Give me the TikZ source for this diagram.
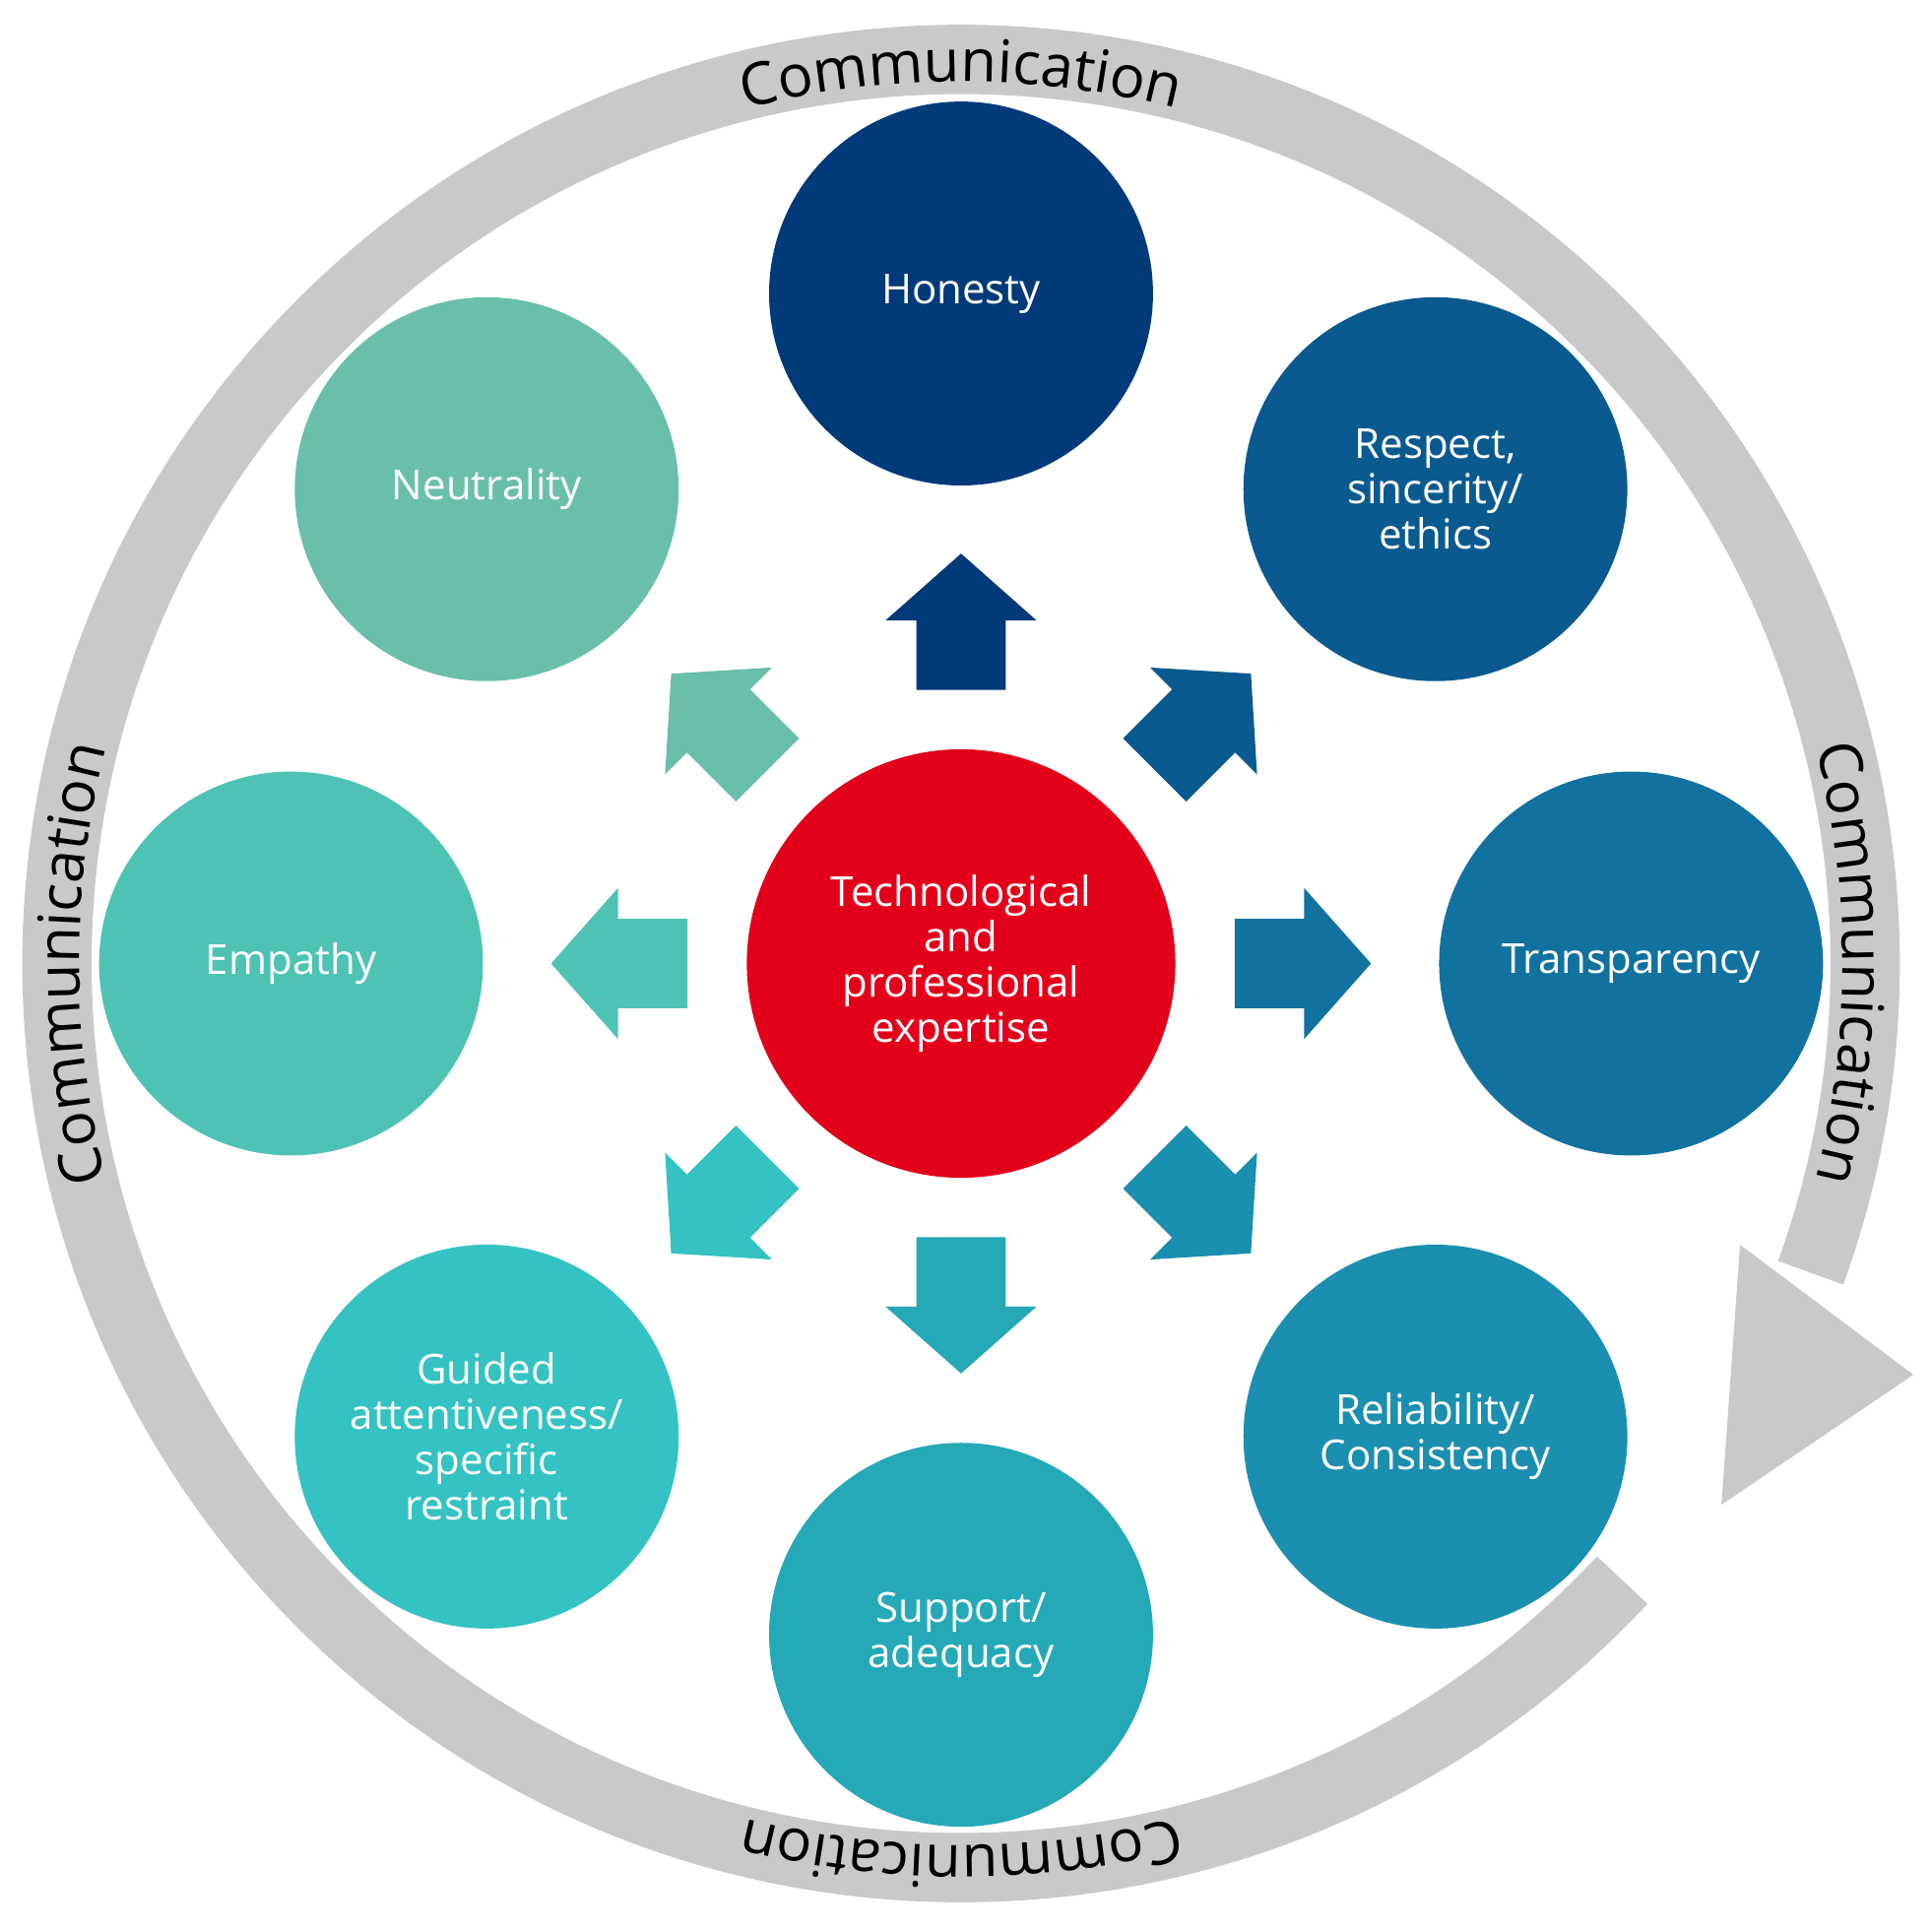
\documentclass[tikz,border=0pt]{standalone}
\usepackage{fontspec}
\setmainfont{Open Sans}
\usetikzlibrary{decorations.text}
\definecolor{cHon}{HTML}{003A78}
\definecolor{cRes}{HTML}{0A5A8F}
\definecolor{cTra}{HTML}{11729F}
\definecolor{cRel}{HTML}{1B8FAF}
\definecolor{cSup}{HTML}{25A9B7}
\definecolor{cGui}{HTML}{35C2C2}
\definecolor{cEmp}{HTML}{4FC3B3}
\definecolor{cNeu}{HTML}{6ABFAA}
\definecolor{cRed}{HTML}{E2001A}
\definecolor{cRing}{HTML}{C8C9CB}
\tikzset{
  val/.style={circle,fill=#1,minimum size=3.1cm,inner sep=0pt,text=white,align=center,
    font=\fontsize{9.5}{10.4}\selectfont},
  blk/.style={fill=#1,draw=none},
  ringtext/.style={decorate,decoration={text along path,text align=center,
    text={|\fontsize{13.5}{14}\selectfont|Communication}}}
}
\begin{document}
\begin{tikzpicture}
\useasboundingbox (-7.76,-7.80) rectangle (7.84,7.78);
% ring
\draw[cRing,line width=0.56cm,line cap=butt] (-43:7.3) arc[start angle=-43,end angle=-380,radius=7.3];
\fill[cRing] (6.29,-2.27) -- (7.69,-3.32) -- (6.14,-4.37) -- cycle;
\foreach \a in {90,0,-90,-180}{
  \path[ringtext] (\a+17:7.12) arc[start angle=\a+17,end angle=\a-17,radius=7.12];
}
% arrows
\foreach \ang/\c in {90/cHon,45/cRes,0/cTra,-45/cRel,-90/cSup,-135/cGui,180/cEmp,135/cNeu}{
  \begin{scope}[rotate=\ang]
    \fill[blk=\c] (2.21,-0.36)--(2.77,-0.36)--(2.77,-0.61)--(3.31,0)--(2.77,0.61)--(2.77,0.36)--(2.21,0.36)--cycle;
  \end{scope}
}
% nodes
\node[val=cRed,minimum size=3.46cm] (c) at (0,0) {Technological\\and\\professional\\expertise};
\node[val=cHon] (hon) at (0,5.41) {Honesty};
\node[val=cRes] (res) at (3.83,3.83) {Respect,\\sincerity/\\ethics};
\node[val=cTra] (tra) at (5.41,0) {Transparency};
\node[val=cRel] (rel) at (3.83,-3.82) {Reliability/\\Consistency};
\node[val=cSup] (sup) at (0,-5.42) {Support/\\adequacy};
\node[val=cGui] (gui) at (-3.83,-3.82) {Guided\\attentiveness/\\specific\\restraint};
\node[val=cEmp] (emp) at (-5.41,0) {Empathy};
\node[val=cNeu] (neu) at (-3.83,3.83) {Neutrality};
\end{tikzpicture}
\end{document}
